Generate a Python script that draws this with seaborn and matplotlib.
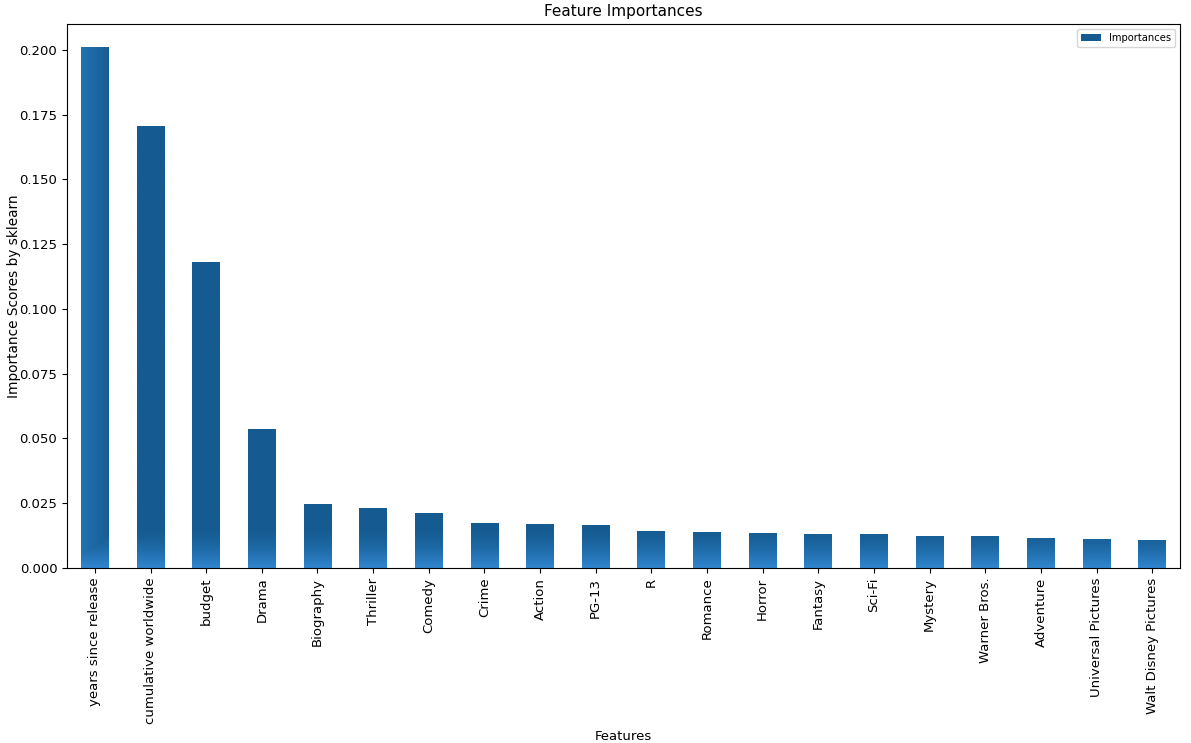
import numpy as np
import pandas as pd
import matplotlib
matplotlib.use("Agg")
import matplotlib.pyplot as plt
import seaborn as sns

features = ["years since release", "cumulative worldwide", "budget", "Drama", "Biography",
            "Thriller", "Comedy", "Crime", "Action", "PG-13", "R", "Romance", "Horror",
            "Fantasy", "Sci-Fi", "Mystery", "Warner Bros.", "Adventure", "Universal Pictures",
            "Walt Disney Pictures"]
importances = [0.2013, 0.1705, 0.1180, 0.0538, 0.0248, 0.0233, 0.0213, 0.0175, 0.0170, 0.0166,
               0.0143, 0.0139, 0.0135, 0.0131, 0.0131, 0.0124, 0.0124, 0.0116, 0.0112, 0.0108]

df = pd.DataFrame({"Features": features, "Importances": importances})

dark = np.array([0x15, 0x5b, 0x91]) / 255.0
light = np.array([0x30, 0x86, 0xcf]) / 255.0

fig = plt.figure(figsize=(11.91, 7.43), dpi=100)
ax = fig.add_axes([0.0563, 0.2355, 0.9345, 0.7322])

sns.barplot(data=df, x="Features", y="Importances", color=dark, width=0.5,
            saturation=1, label="Importances", ax=ax)

ax.set_xlim(-0.5, len(features) - 0.5)
ax.set_ylim(0, 0.2100)

# subtle shading of the bars near the bottom and left edges of the axes
W, H = 1113, 544
yy, xx = np.mgrid[0:H, 0:W]
d_bottom = (H - 1 - yy).astype(float)
d_left = xx.astype(float)
tb = np.clip(1 - d_bottom / 40.0, 0, 1) ** 1.6
tl = np.clip(1 - d_left / 45.0, 0, 1) * 0.75
t = np.maximum(tb, tl)
img = dark[None, None, :] + t[:, :, None] * (light - dark)[None, None, :]
for p in list(ax.patches):
    im = ax.imshow(img, extent=[0, 1, 0, 1], transform=ax.transAxes, aspect="auto",
                   interpolation="bilinear", zorder=p.get_zorder() + 0.1)
    im.set_clip_path(p)

ax.set_title("Feature Importances", fontsize=11)
ax.set_xlabel("Features", fontsize=9.5)
ax.set_ylabel("Importance Scores by sklearn", fontsize=9.8)
ax.yaxis.set_label_coords(-0.041, 0.5)
ax.tick_params(axis="both", labelsize=9.5)
plt.setp(ax.get_xticklabels(), rotation=90)
leg = ax.legend(loc="upper right", fontsize=7.2)

fig.savefig("out.png", dpi=100)
